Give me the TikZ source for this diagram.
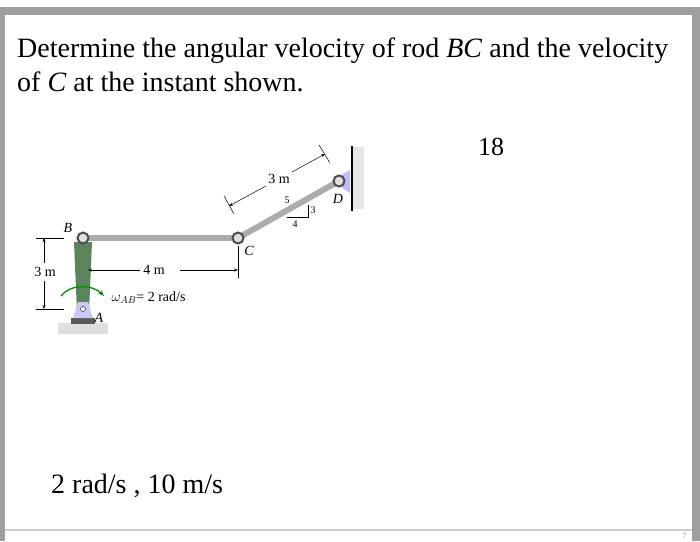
\documentclass[tikz,border=0pt]{standalone}
\usepackage{fontspec}
\setmainfont{Liberation Serif}
\usetikzlibrary{arrows.meta,patterns}
\begin{document}
\begin{tikzpicture}[x=1pt,y=-1pt,
  rodstyle/.style={line width=6pt,draw=gray!65},
  pinstyle/.style={circle,draw=gray!60!black,fill=gray!25,line width=2pt,minimum size=11pt,inner sep=0pt},
  dim/.style={line width=0.5pt},
  lbl/.style={font=\fontsize{10}{10}\selectfont,inner sep=1pt},
  lab/.style={font=\fontsize{14}{14}\selectfont,inner sep=1pt},
  ilab/.style={font=\fontsize{14}{14}\selectfont\itshape,inner sep=1pt}]
\useasboundingbox (0,0) rectangle (700,541);
\fill[gray!75] (0,7) rectangle (700,15);
\fill[gray!75] (0,7) rectangle (5,541);
\fill[gray!75] (692,7) rectangle (700,541);
\draw[gray!40,line width=1.5pt] (5,530) -- (692,530);
\node[anchor=east,font=\fontsize{7}{7}\selectfont,gray] (seven) at (690,536) {7};
\node[anchor=north west,align=left,inner sep=0,font=\fontsize{28}{34}\selectfont] (title) at (17,38)
 {Determine the angular velocity of rod \textit{BC} and the velocity\\ of \textit{C} at the instant shown.};
\node[font=\fontsize{26}{28}\selectfont] (num) at (491,147) {18};
\node[anchor=west,font=\fontsize{28}{30}\selectfont,inner sep=0] (ans) at (51,486) {2 rad/s , 10 m/s};
% ground under A
\fill[gray!25] (58,323) rectangle (108,334);
\fill[gray!70!black] (71,318) rectangle (95,324);
% wall at D
\fill[gray!20] (352,147) rectangle (364,209);
\draw[line width=1.2pt] (352,146) -- (352,211);
% rod AB
\fill[gray!60!green!50!black!75] (74,242) -- (92,242) -- (89,312) -- (77,312) -- cycle;
\fill[gray!30!blue!25] (78,302) -- (88,302) -- (93,318) -- (73,318) -- cycle;
\coordinate (A) at (83,309);
\coordinate (B) at (83,238);
\coordinate (C) at (238,238);
\coordinate (D) at (339,181);
\draw[fill=white] (A) circle (2.5pt);
\node[ilab] (la) at (99,318) {A};
% bracket at D
\fill[gray!30!blue!30] (341,175) -- (350,170) -- (350,193) -- (341,187) -- cycle;
\draw[rodstyle] (B) -- (C);
\draw[rodstyle] (C) -- (D);
\node[pinstyle] (pB) at (B) {};
\node[pinstyle] (pC) at (C) {};
\node[pinstyle] (pD) at (D) {};
\node[ilab] (lb) at (68,228) {B};
\node[ilab] (lc) at (249,251) {C};
\node[ilab] (ld) at (338,199) {D};
% 3 m dimension
\draw[dim] (36,238) -- (64,238) (36,309) -- (64,309);
\node[lab] (d3) at (45,272) {3 m};
\draw[dim,-{Stealth[length=4pt]}] (44,263) -- (44,238);
\draw[dim,-{Stealth[length=4pt]}] (44,281) -- (44,309);
% 4 m dimension
\draw[dim] (238,246) -- (238,278);
\node[lab] (d4) at (154,270) {4 m};
\draw[dim,-{Stealth[length=4pt]}] (140,270) -- (88,270);
\draw[dim,-{Stealth[length=4pt]}] (180,270) -- (238,270);
% 3 m dimension along CD
\draw[dim] (224,196) -- (234,214);
\draw[dim] (319,145) -- (330,163);
\node[lab] (d3b) at (279,179) {3 m};
\draw[dim,-{Stealth[length=4pt]}] (266,186) -- (229,206);
\draw[dim,-{Stealth[length=4pt]}] (292,172) -- (325,154);
% slope triangle
\draw[dim] (287,217) -- (308,217) -- (308,205);
\node[lbl] (t5) at (287,200) {5};
\node[lbl] (t3) at (313,210) {3};
\node[lbl] (t4) at (295,224) {4};
% omega
\draw[-{Stealth[length=6pt]},green!55!black,line width=1.3pt] (61,296) .. controls (70,284) and (92,284) .. (104,296);
\node[anchor=west,font=\fontsize{14}{14}\selectfont] (om) at (108,298) {$\omega_{AB}$= 2 rad/s};
\end{tikzpicture}
\end{document}
